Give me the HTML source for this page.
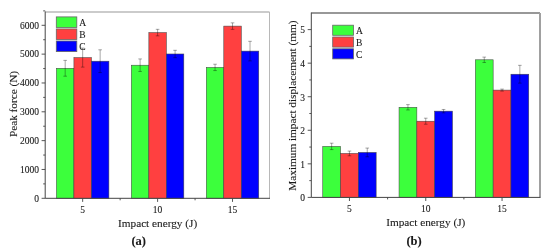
<!DOCTYPE html>
<html><head><meta charset="utf-8"><style>
html,body{margin:0;padding:0;background:#fff;width:550px;height:252px;overflow:hidden}
svg{display:block}
text{font-family:"Liberation Serif","Times New Roman",serif;font-size:9.5px;fill:#1a1a1a;stroke:#1a1a1a;stroke-width:0.1px}
.t{font-size:11.25px}
.c{font-size:12.5px;font-weight:bold}
</style></head><body>
<svg width="550" height="252" viewBox="0 0 550 252">
<rect width="550" height="252" fill="#fff"/>
<rect x="56.44" y="68.29" width="17.48" height="130.01" fill="#3cff3c" stroke="#444" stroke-width="0.55"/>
<rect x="73.92" y="57.59" width="17.48" height="140.71" fill="#ff4040" stroke="#444" stroke-width="0.55"/>
<rect x="91.41" y="61.20" width="17.48" height="137.10" fill="#0000ff" stroke="#444" stroke-width="0.55"/>
<rect x="131.37" y="65.21" width="17.48" height="133.09" fill="#3cff3c" stroke="#444" stroke-width="0.55"/>
<rect x="148.86" y="32.59" width="17.48" height="165.71" fill="#ff4040" stroke="#444" stroke-width="0.55"/>
<rect x="166.34" y="53.99" width="17.48" height="144.31" fill="#0000ff" stroke="#444" stroke-width="0.55"/>
<rect x="206.31" y="67.40" width="17.48" height="130.90" fill="#3cff3c" stroke="#444" stroke-width="0.55"/>
<rect x="223.79" y="26.11" width="17.48" height="172.19" fill="#ff4040" stroke="#444" stroke-width="0.55"/>
<rect x="241.28" y="51.11" width="17.48" height="147.19" fill="#0000ff" stroke="#444" stroke-width="0.55"/>
<path d="M65.18 60.39V76.19M63.38 60.39H66.98M63.38 76.19H66.98M82.67 48.08V67.11M80.87 48.08H84.47M80.87 67.11H84.47M100.15 49.81V72.59M98.35 49.81H101.95M98.35 72.59H101.95M140.12 58.95V71.46M138.32 58.95H141.92M138.32 71.46H141.92M157.60 29.34V35.85M155.80 29.34H159.40M155.80 35.85H159.40M175.08 50.30V57.68M173.28 50.30H176.88M173.28 57.68H176.88M215.05 64.23V70.57M213.25 64.23H216.85M213.25 70.57H216.85M232.53 22.85V29.37M230.73 22.85H234.33M230.73 29.37H234.33M250.02 41.30V60.91M248.22 41.30H251.82M248.22 60.91H251.82" stroke="#000" stroke-width="0.35" fill="none"/>
<path d="M45.20 12.00H269.50" stroke="#cbcbcb" stroke-width="2" fill="none"/>
<path d="M269.50 12.00V198.30" stroke="#b8b8b8" stroke-width="1" fill="none"/>
<path d="M45.20 11.50V198.30H270.00" stroke="#444" stroke-width="1" fill="none"/>
<text x="39.00" y="201.60" text-anchor="end">0</text>
<text x="39.00" y="172.77" text-anchor="end">1000</text>
<text x="39.00" y="143.93" text-anchor="end">2000</text>
<text x="39.00" y="115.10" text-anchor="end">3000</text>
<text x="39.00" y="86.27" text-anchor="end">4000</text>
<text x="39.00" y="57.43" text-anchor="end">5000</text>
<text x="39.00" y="28.60" text-anchor="end">6000</text>
<text x="82.67" y="212.80" text-anchor="middle">5</text>
<text x="157.60" y="212.80" text-anchor="middle">10</text>
<text x="232.53" y="212.80" text-anchor="middle">15</text>
<path d="M41.60 198.30H45.20M41.60 169.47H45.20M41.60 140.63H45.20M41.60 111.80H45.20M41.60 82.97H45.20M41.60 54.13H45.20M41.60 25.30H45.20M43.20 183.88H45.20M43.20 155.05H45.20M43.20 126.22H45.20M43.20 97.38H45.20M43.20 68.55H45.20M43.20 39.72H45.20M43.20 10.88H45.20M82.67 198.30V201.90M157.60 198.30V201.90M232.53 198.30V201.90M120.13 198.30V200.30M195.07 198.30V200.30" stroke="#444" stroke-width="0.9" fill="none"/>
<rect x="56.30" y="16.90" width="20.5" height="10.6" fill="#3cff3c" stroke="#666" stroke-width="0.8"/>
<text x="79.20" y="26.20">A</text>
<rect x="56.30" y="28.95" width="20.5" height="10.6" fill="#ff4040" stroke="#666" stroke-width="0.8"/>
<text x="79.20" y="38.25">B</text>
<rect x="56.30" y="41.00" width="20.5" height="10.6" fill="#0000ff" stroke="#666" stroke-width="0.8"/>
<text x="79.20" y="50.30">C</text>
<text x="157.60" y="226.65" text-anchor="middle" class="t">Impact energy (J)</text>
<text transform="translate(16.90 104.00) rotate(-90)" text-anchor="middle" class="t">Peak force (N)</text>
<text x="138.75" y="244.6" text-anchor="middle" class="c">(a)</text>
<rect x="322.75" y="146.39" width="17.80" height="51.01" fill="#3cff3c" stroke="#444" stroke-width="0.55"/>
<rect x="340.55" y="153.44" width="17.80" height="43.96" fill="#ff4040" stroke="#444" stroke-width="0.55"/>
<rect x="358.35" y="152.43" width="17.80" height="44.97" fill="#0000ff" stroke="#444" stroke-width="0.55"/>
<rect x="399.05" y="107.29" width="17.80" height="90.11" fill="#3cff3c" stroke="#444" stroke-width="0.55"/>
<rect x="416.85" y="121.22" width="17.80" height="76.18" fill="#ff4040" stroke="#444" stroke-width="0.55"/>
<rect x="434.65" y="111.15" width="17.80" height="86.25" fill="#0000ff" stroke="#444" stroke-width="0.55"/>
<rect x="475.35" y="59.80" width="17.80" height="137.60" fill="#3cff3c" stroke="#444" stroke-width="0.55"/>
<rect x="493.15" y="90.11" width="17.80" height="107.29" fill="#ff4040" stroke="#444" stroke-width="0.55"/>
<rect x="510.95" y="74.23" width="17.80" height="123.17" fill="#0000ff" stroke="#444" stroke-width="0.55"/>
<path d="M331.65 143.20V149.58M329.85 143.20H333.45M329.85 149.58H333.45M349.45 151.09V155.79M347.65 151.09H351.25M347.65 155.79H351.25M367.25 148.07V156.79M365.45 148.07H369.05M365.45 156.79H369.05M407.95 104.61V109.98M406.15 104.61H409.75M406.15 109.98H409.75M425.75 118.20V124.24M423.95 118.20H427.55M423.95 124.24H427.55M443.55 109.47V112.83M441.75 109.47H445.35M441.75 112.83H445.35M484.25 57.12V62.49M482.45 57.12H486.05M482.45 62.49H486.05M502.05 89.10V91.12M500.25 89.10H503.85M500.25 91.12H503.85M519.85 65.34V83.13M518.05 65.34H521.65M518.05 83.13H521.65" stroke="#000" stroke-width="0.35" fill="none"/>
<path d="M311.30 13.00H540.00" stroke="#989898" stroke-width="2" fill="none"/>
<path d="M540.00 13.00V197.40" stroke="#a0a0a0" stroke-width="2" fill="none"/>
<path d="M311.30 12.50V197.40H540.50" stroke="#444" stroke-width="1" fill="none"/>
<text x="305.10" y="201.20" text-anchor="end">0</text>
<text x="305.10" y="167.64" text-anchor="end">1</text>
<text x="305.10" y="134.08" text-anchor="end">2</text>
<text x="305.10" y="100.52" text-anchor="end">3</text>
<text x="305.10" y="66.96" text-anchor="end">4</text>
<text x="305.10" y="33.40" text-anchor="end">5</text>
<text x="349.45" y="212.30" text-anchor="middle">5</text>
<text x="425.75" y="212.30" text-anchor="middle">10</text>
<text x="502.05" y="212.30" text-anchor="middle">15</text>
<path d="M307.70 197.40H311.30M307.70 163.84H311.30M307.70 130.28H311.30M307.70 96.72H311.30M307.70 63.16H311.30M307.70 29.60H311.30M309.30 180.62H311.30M309.30 147.06H311.30M309.30 113.50H311.30M309.30 79.94H311.30M309.30 46.38H311.30M349.45 197.40V201.00M425.75 197.40V201.00M502.05 197.40V201.00M387.60 197.40V199.40M463.90 197.40V199.40" stroke="#444" stroke-width="0.9" fill="none"/>
<rect x="332.70" y="25.20" width="20.8" height="10.1" fill="#3cff3c" stroke="#666" stroke-width="0.8"/>
<text x="355.90" y="34.10">A</text>
<rect x="332.70" y="37.00" width="20.8" height="10.1" fill="#ff4040" stroke="#666" stroke-width="0.8"/>
<text x="355.90" y="45.90">B</text>
<rect x="332.70" y="48.80" width="20.8" height="10.1" fill="#0000ff" stroke="#666" stroke-width="0.8"/>
<text x="355.90" y="57.70">C</text>
<text x="425.75" y="225.75" text-anchor="middle" class="t">Impact energy (J)</text>
<text transform="translate(296.00 105.60) rotate(-90)" text-anchor="middle" class="t">Maximum impact displacement (mm)</text>
<text x="414.10" y="244.6" text-anchor="middle" class="c">(b)</text>
</svg>
</body></html>
